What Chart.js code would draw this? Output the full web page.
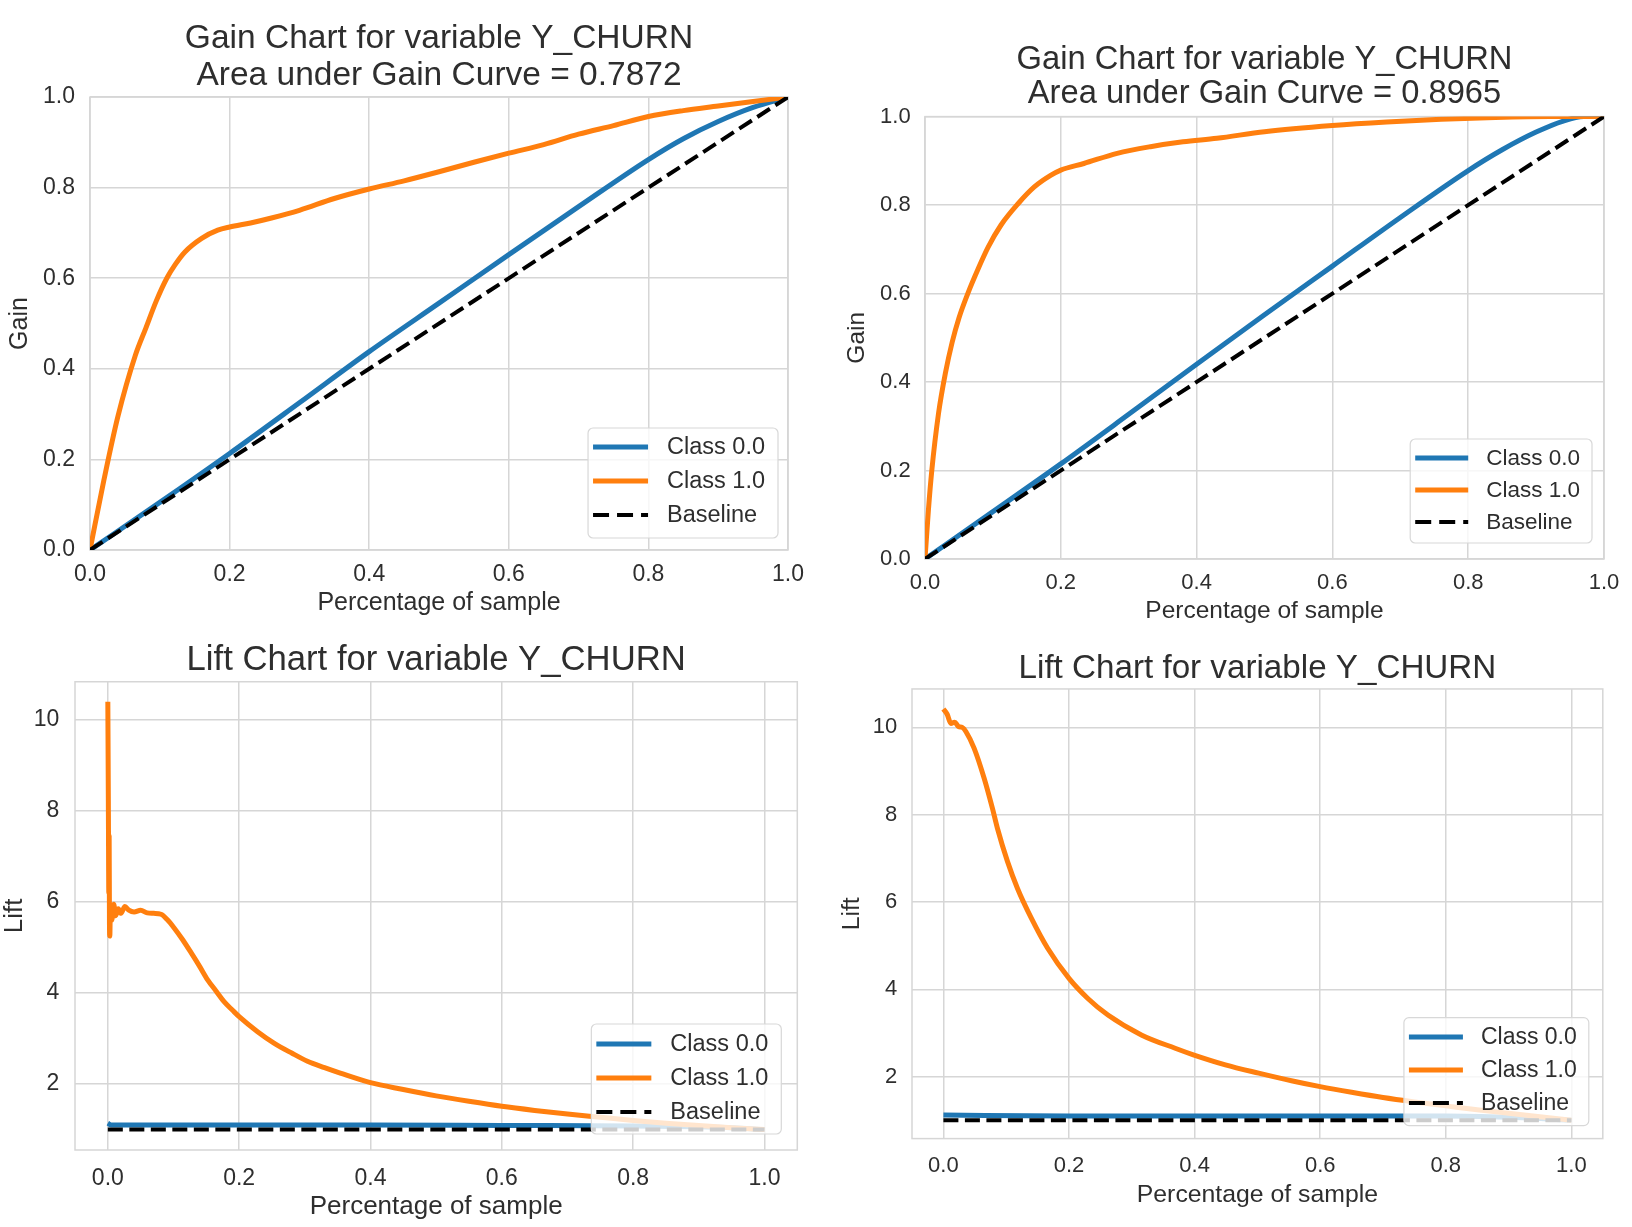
<!DOCTYPE html>
<html>
<head>
<meta charset="utf-8">
<script src="https://cdn.jsdelivr.net/npm/chart.js@4.4.0/dist/chart.umd.min.js"></script>
<style>
  html, body { margin: 0; padding: 0; background: #fff; }
  body { width: 1632px; height: 1227px; position: relative; overflow: hidden; }
  .panel { position: absolute; }
</style>
</head>
<body>
<div class="panel" style="left:0;top:0;width:906px;height:620px"><canvas id="gainA"></canvas></div>
<div class="panel" style="left:816px;top:0;width:925px;height:640px"><canvas id="gainB"></canvas></div>
<div class="panel" style="left:-10px;top:620px;width:911px;height:607px"><canvas id="liftA"></canvas></div>
<div class="panel" style="left:816px;top:620px;width:912px;height:607px"><canvas id="liftB"></canvas></div>
<script>
const FONT = '"Liberation Sans", Arial, Helvetica, sans-serif';
const TEXT = '#2e2e2e';
const GRID = '#d6d6d6';
const BLUE = '#1f77b4';
const ORANGE = '#ff7f0e';

const seriesLabels = ['Class 0.0', 'Class 1.0', 'Baseline'];
const xAxisLabel = 'Percentage of sample';
const gainTicks = [0, 0.2, 0.4, 0.6, 0.8, 1.0];
const liftXTicks = [0, 0.2, 0.4, 0.6, 0.8, 1.0];
const liftYTicks = [2, 4, 6, 8, 10];

// gain chart, left (AUC 0.7872)
const gainA_x1 = [0, 0.02, 0.04, 0.065, 0.08, 0.095, 0.11, 0.122, 0.136, 0.16, 0.183, 0.2, 0.23, 0.26, 0.3, 0.35, 0.4, 0.45, 0.5, 0.55, 0.6, 0.65, 0.7, 0.75, 0.8, 0.85, 0.9, 0.95, 1.0];
const gainA_y1 = [0, 0.155, 0.295, 0.43, 0.49, 0.55, 0.6, 0.63, 0.658, 0.688, 0.706, 0.713, 0.722, 0.733, 0.75, 0.776, 0.797, 0.815, 0.835, 0.856, 0.876, 0.895, 0.918, 0.937, 0.957, 0.97, 0.98, 0.99, 1.0];
const gainA_x0 = [0, 0.1, 0.2, 0.3, 0.4, 0.5, 0.6, 0.7, 0.8, 0.85, 0.9, 0.95, 1.0];
const gainA_y0 = [0, 0.105, 0.213, 0.325, 0.438, 0.545, 0.652, 0.758, 0.862, 0.908, 0.946, 0.977, 1.0];

// gain chart, right (AUC 0.8965)
const gainB_x1 = [0, 0.005, 0.01, 0.02, 0.03, 0.04, 0.05, 0.063, 0.078, 0.093, 0.112, 0.137, 0.161, 0.185, 0.2, 0.234, 0.283, 0.332, 0.38, 0.43, 0.5, 0.6, 0.68, 0.76, 0.84, 0.92, 1.0];
const gainB_y1 = [0, 0.11, 0.2, 0.33, 0.42, 0.49, 0.545, 0.6, 0.655, 0.705, 0.755, 0.803, 0.841, 0.867, 0.879, 0.894, 0.917, 0.932, 0.943, 0.951, 0.966, 0.98, 0.988, 0.994, 0.998, 1.0, 1.0];
const gainB_x0 = [0, 0.1, 0.2, 0.3, 0.4, 0.5, 0.6, 0.7, 0.8, 0.85, 0.9, 0.94, 0.97, 1.0];
const gainB_y0 = [0, 0.107, 0.215, 0.327, 0.44, 0.552, 0.662, 0.772, 0.878, 0.925, 0.965, 0.99, 1.0, 1.0];

const gainBase_x = [0, 1];
const gainBase_y = [0, 1];

// lift chart, left
const liftA_x1 = [0, 0.0008, 0.0015, 0.002, 0.0025, 0.003, 0.004, 0.006, 0.009, 0.012, 0.016, 0.02, 0.026, 0.032, 0.04, 0.05, 0.06, 0.07, 0.081, 0.09, 0.101, 0.114, 0.127, 0.14, 0.152, 0.165, 0.177, 0.19, 0.2, 0.228, 0.253, 0.28, 0.304, 0.33, 0.354, 0.4, 0.45, 0.5, 0.55, 0.6, 0.65, 0.7, 0.75, 0.8, 0.85, 0.9, 0.95, 1.0];
const liftA_y1 = [10.4, 8.2, 6.2, 7.45, 5.5, 5.25, 5.9, 5.6, 5.95, 5.7, 5.85, 5.75, 5.9, 5.82, 5.78, 5.82, 5.76, 5.75, 5.73, 5.62, 5.43, 5.17, 4.88, 4.58, 4.29, 4.04, 3.81, 3.62, 3.48, 3.15, 2.9, 2.68, 2.5, 2.36, 2.24, 2.03, 1.88, 1.74, 1.62, 1.51, 1.42, 1.34, 1.27, 1.2, 1.14, 1.09, 1.04, 1.0];
const liftA_x0 = [0, 0.005, 0.02, 0.2, 0.4, 0.6, 0.8, 0.9, 0.95, 1.0];
const liftA_y0 = [1.14, 1.1, 1.1, 1.1, 1.1, 1.09, 1.08, 1.06, 1.04, 1.0];

// lift chart, right
const liftB_x1 = [0, 0.006, 0.012, 0.018, 0.024, 0.03, 0.036, 0.049, 0.065, 0.078, 0.086, 0.102, 0.118, 0.14, 0.166, 0.2, 0.23, 0.262, 0.316, 0.369, 0.398, 0.449, 0.502, 0.556, 0.6, 0.65, 0.7, 0.75, 0.8, 0.85, 0.9, 0.95, 1.0];
const liftB_y1 = [10.42, 10.3, 10.09, 10.12, 10.02, 10.0, 9.9, 9.52, 8.83, 8.15, 7.69, 6.93, 6.31, 5.63, 4.94, 4.25, 3.79, 3.41, 2.95, 2.65, 2.5, 2.27, 2.08, 1.9, 1.77, 1.64, 1.52, 1.42, 1.33, 1.24, 1.16, 1.08, 1.0];
const liftB_x0 = [0, 0.2, 0.4, 0.6, 0.8, 0.9, 0.95, 1.0];
const liftB_y0 = [1.12, 1.1, 1.1, 1.1, 1.1, 1.07, 1.04, 1.0];

const liftBase_x = [0, 1];
const liftBase_y = [1, 1];

const pts = (xs, ys) => xs.map((x, i) => ({ x, y: ys[i] }));

// light grey box around the plot area, like the axes spines
const frame = {
  id: 'frame',
  beforeDatasetsDraw(chart) {
    const { ctx, chartArea: a } = chart;
    ctx.save();
    ctx.strokeStyle = GRID;
    ctx.lineWidth = 1.5;
    ctx.strokeRect(a.left, a.top, a.right - a.left, a.bottom - a.top);
    ctx.restore();
  }
};

// legend inside the plot, lower right, semi transparent
const cornerLegend = {
  id: 'cornerLegend',
  afterDatasetsDraw(chart, args, o) {
    const { ctx, chartArea: a } = chart;
    const ds = chart.data.datasets;
    ctx.save();
    ctx.font = `${o.fontSize}px ${FONT}`;
    const textW = Math.max(...ds.map(d => ctx.measureText(d.label).width));
    const w = o.padL + o.sample + o.gap + textW + o.padR;
    const h = o.padT + o.rowH * ds.length + o.padB;
    const x = a.right - o.right - w;
    const y = a.bottom - o.bottom - h;
    ctx.beginPath();
    ctx.roundRect(x, y, w, h, 5);
    ctx.fillStyle = 'rgba(255,255,255,0.8)';
    ctx.fill();
    ctx.strokeStyle = '#d8d8d8';
    ctx.lineWidth = 1.2;
    ctx.stroke();
    ds.forEach((d, i) => {
      const cy = y + o.padT + o.rowH * (i + 0.5);
      ctx.beginPath();
      ctx.setLineDash(d.borderDash ? [16, 8] : []);
      ctx.strokeStyle = d.borderColor;
      ctx.lineWidth = d.borderWidth;
      ctx.moveTo(x + o.padL, cy);
      ctx.lineTo(x + o.padL + o.sample, cy);
      ctx.stroke();
      ctx.setLineDash([]);
      ctx.fillStyle = TEXT;
      ctx.textBaseline = 'middle';
      ctx.textAlign = 'left';
      ctx.fillText(d.label, x + o.padL + o.sample + o.gap, cy + 1);
    });
    ctx.restore();
  }
};

function makeChart(id, c) {
  const tickFont = { family: FONT, size: c.tickSize, lineHeight: 1.2 };
  const labelFont = { family: FONT, size: c.labelSize, lineHeight: 1.2 };
  return new Chart(document.getElementById(id), {
    type: 'line',
    data: {
      datasets: [
        { label: seriesLabels[0], data: pts(c.x0, c.y0), borderColor: BLUE, borderWidth: 5, order: 2 },
        { label: seriesLabels[1], data: pts(c.x1, c.y1), borderColor: ORANGE, borderWidth: 5, order: 1 },
        { label: seriesLabels[2], data: pts(c.xb, c.yb), borderColor: '#000', borderWidth: 4, borderDash: [15, 6.5], order: 0 }
      ]
    },
    options: {
      responsive: true,
      maintainAspectRatio: false,
      animation: false,
      events: [],
      elements: {
        point: { radius: 0 },
        line: { cubicInterpolationMode: 'monotone', borderJoinStyle: 'round' }
      },
      layout: { padding: { left: 0, right: c.padRight, top: 0, bottom: 0 } },
      plugins: {
        legend: { display: false },
        tooltip: { enabled: false },
        title: {
          display: true,
          text: c.title,
          color: TEXT,
          font: { family: FONT, size: c.titleSize, weight: 'normal', lineHeight: c.titleLH },
          padding: { top: c.titlePadTop, bottom: c.titlePadBottom }
        },
        cornerLegend: c.legend
      },
      scales: {
        x: {
          type: 'linear',
          min: c.xMin,
          max: c.xMax,
          afterFit: s => { s.height = c.xHeight; },
          afterBuildTicks: s => { s.ticks = c.xTicks.map(v => ({ value: v })); },
          ticks: { font: tickFont, color: TEXT, padding: c.xTickPad, maxRotation: 0, callback: v => v.toFixed(1) },
          grid: { color: GRID, lineWidth: 1.5, drawTicks: false },
          border: { display: false },
          title: { display: true, text: xAxisLabel, color: TEXT, font: labelFont, padding: { top: 0, bottom: c.xTitlePad } }
        },
        y: {
          type: 'linear',
          min: c.yMin,
          max: c.yMax,
          afterFit: s => { s.width = c.yWidth; },
          afterBuildTicks: s => { s.ticks = c.yTicks.map(v => ({ value: v })); },
          ticks: { font: tickFont, color: TEXT, padding: c.yTickPad, callback: c.yFmt },
          grid: { color: GRID, lineWidth: 1.5, drawTicks: false },
          border: { display: false },
          title: { display: true, text: c.yLabel, color: TEXT, font: labelFont, padding: { top: c.yTitlePad, bottom: 0 } }
        },
        // empty right-hand spacer, same width as the y axis, so the title centres over the plot
        spacer: {
          type: 'linear',
          position: 'right',
          afterFit: s => { s.width = c.yWidth; },
          ticks: { display: false },
          grid: { display: false },
          border: { display: false }
        }
      }
    },
    plugins: [frame, cornerLegend]
  });
}

const oneDecimal = v => v.toFixed(1);
const integer = v => String(v);

makeChart('gainA', {
  title: ['Gain Chart for variable Y_CHURN', 'Area under Gain Curve = 0.7872'],
  titleSize: 33.5, titleLH: 1.09, titlePadTop: 20.75, titlePadBottom: 3.25,
  x0: gainA_x0, y0: gainA_y0, x1: gainA_x1, y1: gainA_y1, xb: gainBase_x, yb: gainBase_y,
  xMin: 0, xMax: 1, yMin: 0, yMax: 1, xTicks: gainTicks, yTicks: gainTicks, yFmt: oneDecimal,
  yLabel: 'Gain', padRight: 28, yWidth: 90, xHeight: 70,
  tickSize: 23, labelSize: 25, xTickPad: 10.7, xTitlePad: 2, yTickPad: 15, yTitlePad: 4.7,
  legend: { fontSize: 23.5, rowH: 34, padT: 2, padB: 6, padL: 5, sample: 55, gap: 19, padR: 13, right: 10, bottom: 12 }
});

makeChart('gainB', {
  title: ['Gain Chart for variable Y_CHURN', 'Area under Gain Curve = 0.8965'],
  titleSize: 32.7, titleLH: 1.052, titlePadTop: 42.5, titlePadBottom: 5.3,
  x0: gainB_x0, y0: gainB_y0, x1: gainB_x1, y1: gainB_y1, xb: gainBase_x, yb: gainBase_y,
  xMin: 0, xMax: 1, yMin: 0, yMax: 1, xTicks: gainTicks, yTicks: gainTicks, yFmt: oneDecimal,
  yLabel: 'Gain', padRight: 28, yWidth: 109, xHeight: 81,
  tickSize: 22, labelSize: 24.5, xTickPad: 10.6, xTitlePad: 14, yTickPad: 14.3, yTitlePad: 27,
  legend: { fontSize: 22.5, rowH: 32, padT: 3, padB: 5, padL: 5, sample: 53, gap: 18, padR: 12, right: 12, bottom: 16 }
});

makeChart('liftA', {
  title: 'Lift Chart for variable Y_CHURN',
  titleSize: 34.7, titleLH: 1.05, titlePadTop: 22.1, titlePadBottom: 3.2,
  x0: liftA_x0, y0: liftA_y0, x1: liftA_x1, y1: liftA_y1, xb: liftBase_x, yb: liftBase_y,
  xMin: -0.05, xMax: 1.05, yMin: 0.55, yMax: 10.84, xTicks: liftXTicks, yTicks: liftYTicks, yFmt: integer,
  yLabel: 'Lift', padRight: 18.7, yWidth: 85, xHeight: 77,
  tickSize: 23, labelSize: 26, xTickPad: 15.2, xTitlePad: 4.6, yTickPad: 15.7, yTitlePad: 9.1,
  legend: { fontSize: 23.5, rowH: 34, padT: 3, padB: 5, padL: 5, sample: 55, gap: 19, padR: 13, right: 16, bottom: 16 }
});

makeChart('liftB', {
  title: 'Lift Chart for variable Y_CHURN',
  titleSize: 33.2, titleLH: 1.05, titlePadTop: 31, titlePadBottom: 3.1,
  x0: liftB_x0, y0: liftB_y0, x1: liftB_x1, y1: liftB_y1, xb: liftBase_x, yb: liftBase_y,
  xMin: -0.05, xMax: 1.05, yMin: 0.58, yMax: 10.88, xTicks: liftXTicks, yTicks: liftYTicks, yFmt: integer,
  yLabel: 'Lift', padRight: 29.2, yWidth: 96, xHeight: 88.4,
  tickSize: 22, labelSize: 24.8, xTickPad: 13.8, xTitlePad: 17.4, yTickPad: 14.7, yTitlePad: 21.5,
  legend: { fontSize: 23, rowH: 33, padT: 3, padB: 6, padL: 5, sample: 54, gap: 18, padR: 12, right: 14, bottom: 13 }
});
</script>
</body>
</html>
